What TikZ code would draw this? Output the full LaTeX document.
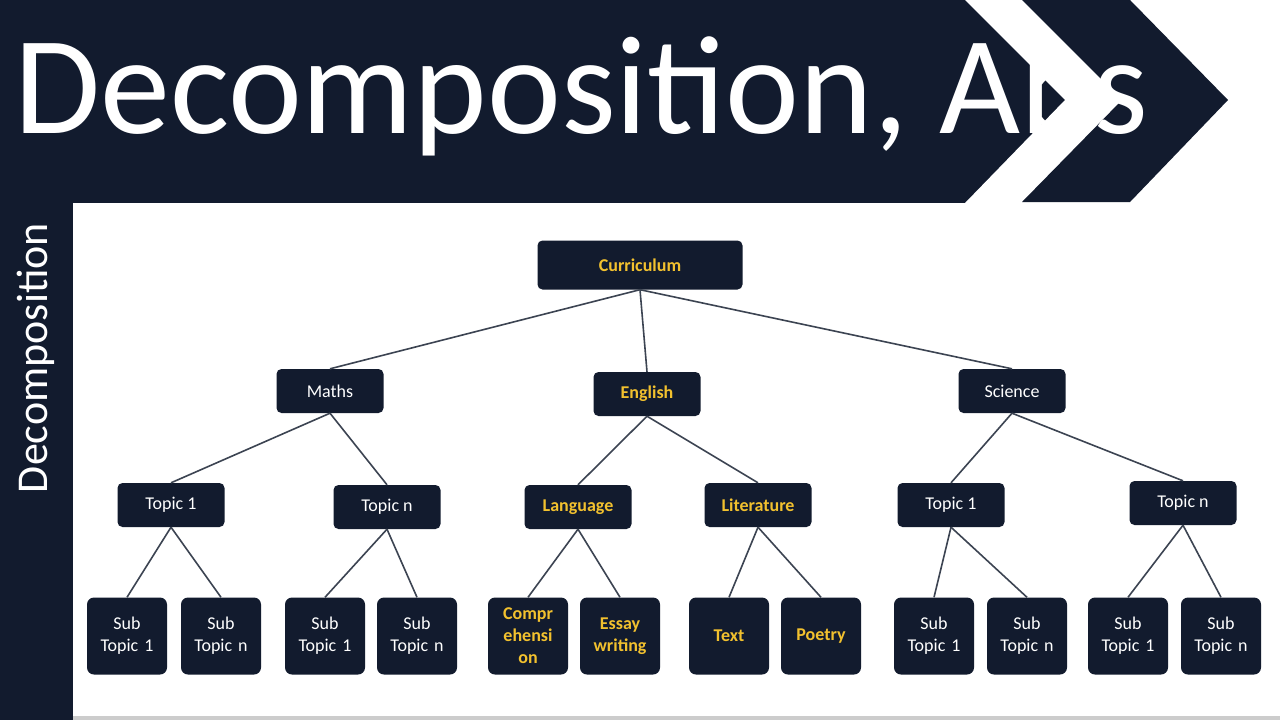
\documentclass[tikz,border=0pt]{standalone}
\usepackage{fontspec}
\setmainfont{Carlito}
\definecolor{navy}{HTML}{121B2E}
\definecolor{gold}{HTML}{F2C12E}
\definecolor{edge}{HTML}{3C4452}
\begin{document}
\begin{tikzpicture}[x=1pt,y=-1pt,
  box/.style={fill=navy,rounded corners=5pt,minimum width=107pt,minimum height=44pt,inner sep=2pt,font=\fontsize{18}{22}\selectfont,text=white,align=center},
  hl/.style={text=gold,font=\fontsize{18}{22}\selectfont\bfseries},
  leaf/.style={box,minimum width=80pt,minimum height=77pt,text width=76pt,rounded corners=7pt},
  conn/.style={draw=edge,line width=1.6pt}]
\useasboundingbox (0,0) rectangle (1280,720);
\fill[navy] (0,0) rectangle (1280,720);
\fill[white] (73,203) rectangle (1280,716);
\fill[gray!40] (73,716) rectangle (1280,720);
\fill[white] (965,0) -- (1280,0) -- (1280,203) -- (965,203) -- (1065,100) -- cycle;
\fill[navy] (1022,0) -- (1130,0) -- (1228,100) -- (1130,202) -- (1022,202) -- (1122,100) -- cycle;
\node[anchor=base west,text=white,font=\fontsize{140}{140}\selectfont,inner sep=0] (title) at (14,133) {Decomposition, Abs};
\node[rotate=90,text=white,font=\fontsize{44}{44}\selectfont] (side) at (36,358) {Decomposition};

\node[box,minimum width=205pt,minimum height=49pt,hl] (cur) at (640,265) {Curriculum};
\node[box] (maths) at (330,391) {Maths};
\node[box,hl] (eng) at (647,394) {English};
\node[box] (sci) at (1012,391) {Science};
\node[box] (t1) at (171,505) {Topic 1};
\node[box] (tn) at (387,507) {Topic n};
\node[box,hl] (lang) at (578,507) {Language};
\node[box,hl] (lit) at (758,505) {Literature};
\node[box] (s1) at (951,505) {Topic 1};
\node[box] (sn) at (1183,503) {Topic n};

\node[leaf] (a1) at (127,636) {Sub\\Topic 1};
\node[leaf] (a2) at (221,636) {Sub\\Topic n};
\node[leaf] (b1) at (325,636) {Sub\\Topic 1};
\node[leaf] (b2) at (417,636) {Sub\\Topic n};
\node[leaf,hl] (c1) at (528,636) {Compr\\ehensi\\on};
\node[leaf,hl] (c2) at (620,636) {Essay\\writing};
\node[leaf,hl] (d1) at (729,636) {Text};
\node[leaf,hl] (d2) at (821,636) {Poetry};
\node[leaf] (e1) at (934,636) {Sub\\Topic 1};
\node[leaf] (e2) at (1027,636) {Sub\\Topic n};
\node[leaf] (f1) at (1128,636) {Sub\\Topic 1};
\node[leaf] (f2) at (1221,636) {Sub\\Topic n};

\foreach \p/\c in {cur/maths,cur/eng,cur/sci,maths/t1,maths/tn,eng/lang,eng/lit,sci/s1,sci/sn,
  t1/a1,t1/a2,tn/b1,tn/b2,lang/c1,lang/c2,lit/d1,lit/d2,s1/e1,s1/e2,sn/f1,sn/f2}
  \draw[conn] (\p.south) -- (\c.north);
\end{tikzpicture}
\end{document}
